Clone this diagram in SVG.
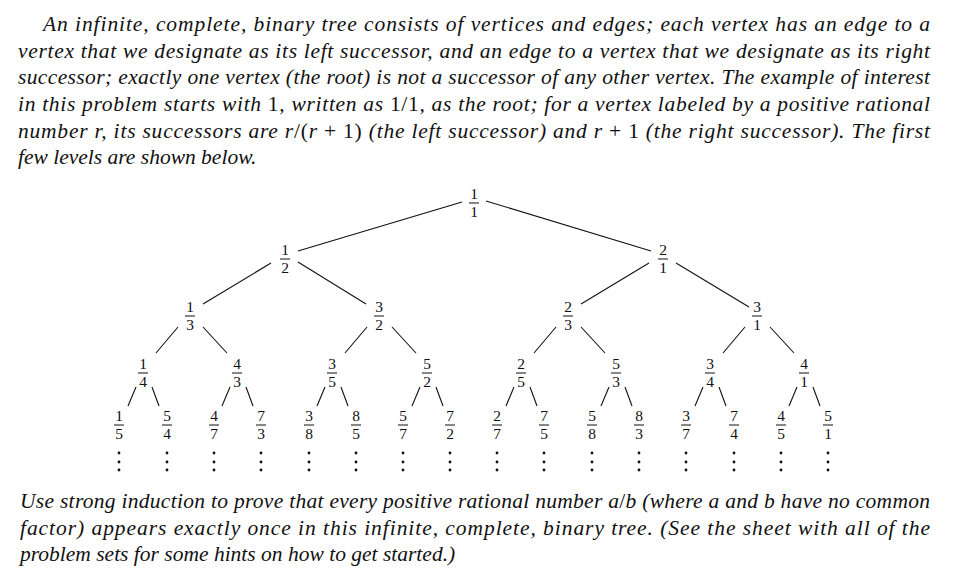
<svg xmlns="http://www.w3.org/2000/svg" width="956" height="579" viewBox="0 0 956 579">
<style>
.p{font-family:"Liberation Serif",serif;font-style:italic;font-size:21.5px;fill:#111}
.u{font-style:normal}
.f{font-family:"Liberation Serif",serif;font-size:15.5px;fill:#111;text-anchor:middle}
.bar{stroke:#111;stroke-width:1}
.e{stroke:#111;stroke-width:1.1;fill:none}
</style>
<rect width="956" height="579" fill="#fff"/>
<g id="text-top" class="p">
<text x="43" y="31" textLength="887" lengthAdjust="spacing">An infinite, complete, binary tree consists of vertices and edges; each vertex has an edge to a</text>
<text x="18" y="58" textLength="912" lengthAdjust="spacing">vertex that we designate as its left successor, and an edge to a vertex that we designate as its right</text>
<text x="18" y="84" textLength="912" lengthAdjust="spacing">successor; exactly one vertex (the root) is not a successor of any other vertex. The example of interest</text>
<text x="18" y="111" textLength="912" lengthAdjust="spacing">in this problem starts with <tspan class="u">1</tspan>, written as <tspan class="u">1/1</tspan>, as the root; for a vertex labeled by a positive rational</text>
<text x="18" y="138" textLength="912" lengthAdjust="spacing">number r, its successors are r<tspan class="u">/(</tspan>r <tspan class="u">+ 1)</tspan> (the left successor) and r <tspan class="u">+ 1</tspan> (the right successor). The first</text>
<text x="18" y="164">few levels are shown below.</text>
</g>
<g id="connectors" class="e">
<path d="M462 202L298 251M486 201L651 251"/>
<path d="M271 263L203 304M298 262L366 304M649 263L581 304M676 263L749 307"/>
<path d="M178 327L156 353M203 327L227 353M367 327L345 353M392 327L416 353M556 327L534 353M581 327L605 353M745 327L723 353M770 327L794 353"/>
<path d="M136 387L128 406M152 387L159 406M230 387L222 406M246 387L253 406M325 387L317 406M341 387L348 406M420 387L412 406M436 387L443 406M514 387L506 406M530 387L537 406M609 387L601 406M625 387L632 406M703 387L695 406M719 387L726 406M797 387L789 406M813 387L820 406"/>
</g>
<g id="nodes">
<g id="n1-1"><text class="f" x="474" y="199">1</text><line class="bar" x1="469" y1="203" x2="479" y2="203"/><text class="f" x="474" y="217">1</text></g>
<g id="n1-2"><text class="f" x="285" y="255">1</text><line class="bar" x1="280" y1="259" x2="290" y2="259"/><text class="f" x="285" y="273">2</text></g>
<g id="n2-1"><text class="f" x="663" y="255">2</text><line class="bar" x1="658" y1="259" x2="668" y2="259"/><text class="f" x="663" y="273">1</text></g>
<g id="n1-3"><text class="f" x="190" y="312">1</text><line class="bar" x1="185" y1="316" x2="195" y2="316"/><text class="f" x="190" y="330">3</text></g>
<g id="n3-2"><text class="f" x="379" y="312">3</text><line class="bar" x1="374" y1="316" x2="384" y2="316"/><text class="f" x="379" y="330">2</text></g>
<g id="n2-3"><text class="f" x="568" y="312">2</text><line class="bar" x1="563" y1="316" x2="573" y2="316"/><text class="f" x="568" y="330">3</text></g>
<g id="n3-1"><text class="f" x="757" y="312">3</text><line class="bar" x1="752" y1="316" x2="762" y2="316"/><text class="f" x="757" y="330">1</text></g>
<g id="n1-4"><text class="f" x="143" y="369">1</text><line class="bar" x1="138" y1="373" x2="148" y2="373"/><text class="f" x="143" y="387">4</text></g>
<g id="n4-3"><text class="f" x="237" y="369">4</text><line class="bar" x1="232" y1="373" x2="242" y2="373"/><text class="f" x="237" y="387">3</text></g>
<g id="n3-5"><text class="f" x="332" y="369">3</text><line class="bar" x1="327" y1="373" x2="337" y2="373"/><text class="f" x="332" y="387">5</text></g>
<g id="n5-2"><text class="f" x="427" y="369">5</text><line class="bar" x1="422" y1="373" x2="432" y2="373"/><text class="f" x="427" y="387">2</text></g>
<g id="n2-5"><text class="f" x="521" y="369">2</text><line class="bar" x1="516" y1="373" x2="526" y2="373"/><text class="f" x="521" y="387">5</text></g>
<g id="n5-3"><text class="f" x="616" y="369">5</text><line class="bar" x1="611" y1="373" x2="621" y2="373"/><text class="f" x="616" y="387">3</text></g>
<g id="n3-4"><text class="f" x="710" y="369">3</text><line class="bar" x1="705" y1="373" x2="715" y2="373"/><text class="f" x="710" y="387">4</text></g>
<g id="n4-1"><text class="f" x="804" y="369">4</text><line class="bar" x1="799" y1="373" x2="809" y2="373"/><text class="f" x="804" y="387">1</text></g>
<g id="n1-5"><text class="f" x="119" y="421">1</text><line class="bar" x1="114" y1="425" x2="124" y2="425"/><text class="f" x="119" y="439">5</text></g>
<g id="n5-4"><text class="f" x="167" y="421">5</text><line class="bar" x1="162" y1="425" x2="172" y2="425"/><text class="f" x="167" y="439">4</text></g>
<g id="n4-7"><text class="f" x="214" y="421">4</text><line class="bar" x1="209" y1="425" x2="219" y2="425"/><text class="f" x="214" y="439">7</text></g>
<g id="n7-3"><text class="f" x="261" y="421">7</text><line class="bar" x1="256" y1="425" x2="266" y2="425"/><text class="f" x="261" y="439">3</text></g>
<g id="n3-8"><text class="f" x="309" y="421">3</text><line class="bar" x1="304" y1="425" x2="314" y2="425"/><text class="f" x="309" y="439">8</text></g>
<g id="n8-5"><text class="f" x="356" y="421">8</text><line class="bar" x1="351" y1="425" x2="361" y2="425"/><text class="f" x="356" y="439">5</text></g>
<g id="n5-7"><text class="f" x="403" y="421">5</text><line class="bar" x1="398" y1="425" x2="408" y2="425"/><text class="f" x="403" y="439">7</text></g>
<g id="n7-2"><text class="f" x="450" y="421">7</text><line class="bar" x1="445" y1="425" x2="455" y2="425"/><text class="f" x="450" y="439">2</text></g>
<g id="n2-7"><text class="f" x="497" y="421">2</text><line class="bar" x1="492" y1="425" x2="502" y2="425"/><text class="f" x="497" y="439">7</text></g>
<g id="n7-5"><text class="f" x="544" y="421">7</text><line class="bar" x1="539" y1="425" x2="549" y2="425"/><text class="f" x="544" y="439">5</text></g>
<g id="n5-8"><text class="f" x="592" y="421">5</text><line class="bar" x1="587" y1="425" x2="597" y2="425"/><text class="f" x="592" y="439">8</text></g>
<g id="n8-3"><text class="f" x="639" y="421">8</text><line class="bar" x1="634" y1="425" x2="644" y2="425"/><text class="f" x="639" y="439">3</text></g>
<g id="n3-7"><text class="f" x="686" y="421">3</text><line class="bar" x1="681" y1="425" x2="691" y2="425"/><text class="f" x="686" y="439">7</text></g>
<g id="n7-4"><text class="f" x="734" y="421">7</text><line class="bar" x1="729" y1="425" x2="739" y2="425"/><text class="f" x="734" y="439">4</text></g>
<g id="n4-5"><text class="f" x="781" y="421">4</text><line class="bar" x1="776" y1="425" x2="786" y2="425"/><text class="f" x="781" y="439">5</text></g>
<g id="n5-1"><text class="f" x="828" y="421">5</text><line class="bar" x1="823" y1="425" x2="833" y2="425"/><text class="f" x="828" y="439">1</text></g>
</g>
<g id="dots" fill="#111">
<g id="d"><circle cx="119" cy="453" r="1.4"/><circle cx="119" cy="462" r="1.4"/><circle cx="119" cy="470" r="1.4"/></g>
<use href="#d" x="48"/><use href="#d" x="95"/><use href="#d" x="142"/><use href="#d" x="190"/><use href="#d" x="237"/><use href="#d" x="284"/><use href="#d" x="331"/><use href="#d" x="378"/><use href="#d" x="425"/><use href="#d" x="473"/><use href="#d" x="520"/><use href="#d" x="567"/><use href="#d" x="615"/><use href="#d" x="662"/><use href="#d" x="709"/>
</g>
<g id="text-bottom" class="p">
<text x="20" y="508" textLength="910" lengthAdjust="spacing">Use strong induction to prove that every positive rational number a<tspan class="u">/</tspan>b (where a and b have no common</text>
<text x="20" y="535" textLength="910" lengthAdjust="spacing">factor) appears exactly once in this infinite, complete, binary tree. (See the sheet with all of the</text>
<text x="20" y="561">problem sets for some hints on how to get started.)</text>
</g>
</svg>
